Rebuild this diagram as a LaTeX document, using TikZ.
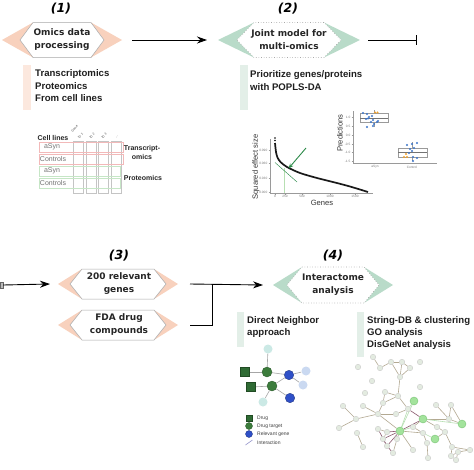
\documentclass[tikz,border=0pt]{standalone}
\usepackage{fontspec}
\setmainfont{Liberation Sans}
\newfontfamily\dvsans{DejaVu Sans}
\usetikzlibrary{arrows.meta}
\pgfdeclarelayer{bg}
\pgfdeclarelayer{paper}
\pgfsetlayers{paper,bg,main}
\definecolor{peach}{HTML}{F8D1BD}
\definecolor{peachbar}{HTML}{FCE8DE}
\definecolor{mint}{HTML}{B9DBC9}
\definecolor{mintbar}{HTML}{E3EFE8}
\definecolor{hexedge}{HTML}{A8A8A8}
\definecolor{axisgray}{HTML}{9A9A9A}
\definecolor{tickgray}{HTML}{7A7A7A}
\definecolor{arrowgreen}{HTML}{2E8B4A}
\definecolor{dotblue}{HTML}{3B74C9}
\definecolor{dotorange}{HTML}{F0A22E}
\definecolor{rowpink}{HTML}{F2B9B9}
\definecolor{rowgreen}{HTML}{C6E6C6}
\definecolor{colgray}{HTML}{C4C4C4}
\definecolor{drugsq}{HTML}{2F6B34}
\definecolor{targetgreen}{HTML}{3C7C3C}
\definecolor{genblue}{HTML}{2F50C8}
\definecolor{ltblue}{HTML}{CAD9F1}
\definecolor{ltcyan}{HTML}{CBE9E5}
\definecolor{netfill}{HTML}{E3EBE0}
\definecolor{netedgec}{HTML}{C4C4C4}
\definecolor{netgreen}{HTML}{A3E39C}
\definecolor{netgreenb}{HTML}{79C475}
\definecolor{olivec}{HTML}{B3A992}
\definecolor{maroonc}{HTML}{8A5A6E}
\definecolor{paleg}{HTML}{B7DFB2}

\newcommand\hexshape[8]{%
  \fill[#7] (#1-#3-#6,#2) -- (#1-#3+#5,#2-#4) -- (#1-#3,#2) -- (#1-#3+#5,#2+#4) -- cycle;
  \fill[#7] (#1+#3+#6,#2) -- (#1+#3-#5,#2-#4) -- (#1+#3,#2) -- (#1+#3-#5,#2+#4) -- cycle;
  \draw[#8,fill=white] (#1-#3,#2) -- (#1-#3+#5,#2-#4) -- (#1+#3-#5,#2-#4) -- (#1+#3,#2) -- (#1+#3-#5,#2+#4) -- (#1-#3+#5,#2+#4) -- cycle;
}

\begin{document}
\begin{tikzpicture}[x=1pt,y=-1pt,
  hexspan/.style={inner sep=0, outer sep=0},
  hexlab/.style={font=\dvsans\bfseries\fontsize{9}{13}\selectfont, align=center, text=black!85},
  steplab/.style={font=\dvsans\bfseries\itshape\fontsize{12.5}{14}\selectfont},
  desc/.style={font=\bfseries\fontsize{9.6}{12}\selectfont, anchor=base west, inner sep=0, text=black!88},
  flowarrow/.style={-{Stealth[length=10pt,width=7pt]}, line width=0.9pt},
  solidhex/.style={draw=hexedge, line width=0.5pt},
  dothex/.style={draw=hexedge, line width=0.6pt, dotted},
  tiny/.style={font=\fontsize{3.2}{3.6}\selectfont, text=tickgray, inner sep=0.5pt},
  axlab/.style={font=\fontsize{7.6}{9}\selectfont, text=black!80, inner sep=0},
  cellt/.style={font=\fontsize{7}{8}\selectfont, text=black!55, inner sep=0},
  tabhead/.style={font=\bfseries\fontsize{7}{8.5}\selectfont, text=black!85, inner sep=0, align=center},
  colhead/.style={font=\fontsize{3.2}{3.5}\selectfont, text=black!70, rotate=45, inner sep=0},
  jdot/.style={circle, inner sep=0, minimum size=2.3, fill=dotblue},
  odot/.style={circle, inner sep=0, minimum size=2.3, fill=dotorange},
  drugbox/.style={rectangle, fill=drugsq, draw=drugsq!70!black, line width=0.3pt, minimum size=9, inner sep=0},
  tgt/.style={circle, fill=targetgreen, draw=targetgreen!70!black, line width=0.3pt, minimum size=10, inner sep=0},
  rel/.style={circle, fill=genblue, draw=genblue!60!black, line width=0.3pt, minimum size=9.5, inner sep=0},
  ltb/.style={circle, fill=ltblue, minimum size=9, inner sep=0},
  ltc/.style={circle, fill=ltcyan, minimum size=9, inner sep=0},
  legt/.style={font=\fontsize{5}{6}\selectfont, text=black!75, anchor=west, inner sep=0},
  netn/.style={circle, draw=netedgec, fill=netfill, line width=0.3pt, minimum size=5.5, inner sep=0},
  netg/.style={circle, draw=netgreenb, fill=netgreen, line width=0.4pt, minimum size=8, inner sep=0},
  nete/.style={line width=0.6pt}
]
\useasboundingbox (0,0) rectangle (474,469);
\begin{pgfonlayer}{paper}
\fill[white] (0,0) rectangle (474,469);
\end{pgfonlayer}

% ---------------- step labels
\node[steplab] (s1) at (61,9) {(1)};
\node[steplab] (s2) at (288,9) {(2)};
\node[steplab] (s3) at (119,256) {(3)};
\node[steplab] (s4) at (333,256) {(4)};

% ---------------- hexagons
\hexshape{62}{40}{42}{17.5}{13}{18}{peach}{solidhex}
\node[hexspan, minimum width=120, minimum height=35] (hex1) at (62,40) {};
\node[hexlab] (l1) at (62,40) {Omics data\\processing};

\hexshape{289}{40}{52}{17.5}{17}{19}{mint}{dothex}
\node[hexspan, minimum width=142, minimum height=35] (hex2) at (289,40) {};
\node[hexlab] (l2) at (289,40) {Joint model for\\multi-omics};

\hexshape{118}{284}{48}{15}{12}{12}{peach}{solidhex}
\node[hexspan, minimum width=120, minimum height=30] (hex3a) at (118,284) {};
\node[hexlab] (l3a) at (119,284) {200 relevant\\genes};

\hexshape{118}{325}{48}{15}{12}{12}{peach}{solidhex}
\node[hexspan, minimum width=120, minimum height=30] (hex3b) at (118,325) {};
\node[hexlab] (l3b) at (119,325) {FDA drug\\compounds};

\hexshape{333}{285}{46}{18}{15}{14}{mint}{dothex}
\node[hexspan, minimum width=120, minimum height=36] (hex4) at (333,285) {};
\node[hexlab] (l4) at (333,285) {Interactome\\analysis};

% ---------------- connectors
\draw[flowarrow] ([xshift=10pt]hex1.east) -- ([xshift=-11pt]hex2.west);
\coordinate (tee1) at (417,40);
\draw[line width=0.9pt, -{Bar[width=10pt,line width=1pt]}] ([xshift=8pt]hex2.east) -- (tee1);
\node[rectangle, fill=gray!55, draw=gray!80!black, line width=0.3pt, minimum width=3, minimum height=6, inner sep=0] (teebox) at (1.5,285) {};
\draw[flowarrow] (teebox.east) -- ([xshift=-8pt]hex3a.west);
\coordinate (join) at (212,285);
\draw[flowarrow] ([xshift=12pt]hex3a.east) -- ([xshift=-10pt]hex4.west);
\draw[line width=0.9pt] ([xshift=12pt]hex3b.east) -| (join);

% ---------------- description texts
\fill[peachbar] (23,65) rectangle (31,110);
\node[desc] (d1a) at (35,76.5) {Transcriptomics};
\node[desc] (d1b) at (35,89) {Proteomics};
\node[desc] (d1c) at (35,101.5) {From cell lines};

\fill[mintbar] (240,65) rectangle (248,110);
\node[desc] (d2a) at (250,77) {Prioritize genes/proteins};
\node[desc] (d2b) at (250,90) {with POPLS-DA};

\fill[mintbar] (237,312) rectangle (244,347);
\node[desc] (d4a) at (247,323) {Direct Neighbor};
\node[desc] (d4b) at (247,335) {approach};

\fill[mintbar] (357,312) rectangle (364,357);
\node[desc] (d4c) at (367,323) {String-DB \& clustering};
\node[desc] (d4d) at (367,335) {GO analysis};
\node[desc] (d4e) at (367,347) {DisGeNet analysis};

% ---------------- cell line table
\foreach \cx in {73,86,98,111}
  \draw[colgray, line width=0.4pt] (\cx,141) rectangle (\cx+10,193);
\draw[rowpink, line width=0.45pt] (39,142) rectangle (123,152);
\draw[rowpink, line width=0.45pt] (39,154) rectangle (123,164);
\draw[rowgreen, line width=0.45pt] (39,166.5) rectangle (120,176.5);
\draw[rowgreen, line width=0.45pt] (39,178) rectangle (120,188);
\node[tabhead] (cl) at (53,138) {Cell lines};
\node[cellt] (r1) at (52,147) {aSyn};
\node[cellt] (r2) at (53,159) {Controls};
\node[cellt] (r3) at (52,171) {aSyn};
\node[cellt] (r4) at (53,183) {Controls};
\node[colhead] (ch1a) at (74.5,128.5) {Gene};
\node[colhead] (ch1b) at (80.5,136) {ID 1};
\node[colhead] (ch2) at (92,136) {ID 2};
\node[colhead] (ch3) at (104,136) {ID 3};
\node[colhead] (ch4) at (117,137) {...};
\node[tabhead] (tt) at (142,152.5) {Transcript-\\omics};
\node[tabhead] (tp) at (143,178) {Proteomics};

% ---------------- effect size plot
\draw[axisgray, line width=0.4pt] (270,139) -- (270,193) -- (373,193);
\foreach \yy/\lab in {150/0.090,163/0.060,178/0.030,192/0.000}{
  \draw[axisgray, line width=0.3pt] (268.5,\yy) -- (270,\yy);
  \node[tiny, anchor=east] at (268,\yy) {\lab};}
\foreach \xx/\lab in {275/0,285/250,302/500,330/1000,355/1500}{
  \draw[axisgray, line width=0.3pt] (\xx,193) -- (\xx,194.5);
  \node[tiny, anchor=north] at (\xx,195) {\lab};}
\node[axlab, rotate=90] (yl) at (256,167) {Squared effect size};
\node[axlab] (xl) at (322,203) {Genes};
\draw[paleg, line width=0.35pt] (284.5,168) -- (284.5,193);
\draw[line width=1.7pt, black!90] plot[smooth] coordinates {(275,143) (276,152) (277.5,157.5) (280.5,162) (287,167) (300,173) (317,178) (333,182) (350,186.5) (368,192)};
\fill[black] (275,138) circle (0.8);
\fill[black] (275,140.5) circle (0.8);
\draw[arrowgreen, line width=0.45pt] (275,162.5) -- (297,182);
\draw[arrowgreen, line width=0.9pt, -{Stealth[length=5pt,width=4pt]}] (306,148) -- (288.5,168.5);

% ---------------- predictions plot
\draw[axisgray, line width=0.4pt] (353,111) -- (353,163.5) -- (437,163.5);
\foreach \yy/\lab in {117/1.0,126/0.5,135/0.0,144/-0.5,152.5/-1.0,161.5/-1.5}{
  \draw[axisgray, line width=0.3pt] (351.5,\yy) -- (353,\yy);
  \node[tiny, anchor=east] at (351,\yy) {\lab};}
\node[tiny, anchor=north] (xa) at (375,165) {aSyn};
\node[tiny, anchor=north] (xc) at (412,165) {Control};
\node[axlab, rotate=90] (pl) at (340,133) {Predictions};
\draw[axisgray, line width=0.4pt] (374,110) -- (374,113) (374,122) -- (374,127);
\draw[axisgray, line width=0.5pt, fill=white] (360,113) rectangle (388,122);
\draw[black!55, line width=0.8pt] (360,118) -- (388,118);
\draw[axisgray, line width=0.4pt] (412,142) -- (412,148) (412,157) -- (412,161);
\draw[axisgray, line width=0.5pt, fill=white] (398,148) rectangle (427,157);
\draw[black!55, line width=0.8pt] (398,152) -- (427,152);
\foreach \px/\py in {363/113,367/114,369/117,368/118.5,372/116,366/119,373/120,377/122,378/121,374/124,367/127,373/126,371/122}
  \node[jdot] at (\px,\py) {};
\foreach \px/\py in {375/112.5,377.5/112.5}
  \node[odot] at (\px,\py) {};
\foreach \px/\py in {407/145,412/144,417/143,410/149,412/151,409/153,413/157,417/158,413/161,414/148}
  \node[jdot] at (\px,\py) {};
\foreach \px/\py in {406/154,407/157,404/157}
  \node[odot] at (\px,\py) {};

% ---------------- direct neighbour network
\node[ltc] (c1) at (268,349) {};
\node[drugbox] (sq1) at (245,372) {};
\node[tgt] (g1) at (267,372) {};
\node[rel] (b1) at (289,375) {};
\node[ltb] (lb1) at (306,371) {};
\node[drugbox] (sq2) at (251,387) {};
\node[tgt] (g2) at (272,386) {};
\node[ltb] (lb2) at (303,385) {};
\node[rel] (b2) at (290,398) {};
\node[ltc] (c2) at (263,402) {};
\begin{pgfonlayer}{bg}
\foreach \u/\v in {sq1/g1,g1/b1,b1/lb1,b1/lb2,g1/c1,sq2/g2,g2/b1,g2/b2,g2/c2}
  \draw[black!35, line width=0.6pt] (\u) -- (\v);
\end{pgfonlayer}
\node[drugbox, minimum size=6] (k1) at (249,418) {};
\node[tgt, minimum size=7] (k2) at (249,426) {};
\node[rel, minimum size=7] (k3) at (249,434) {};
\coordinate (k4a) at (245.5,445);
\coordinate (k4b) at (252.5,440);
\draw[blue!35!gray!60, line width=0.6pt] (k4a) -- (k4b);
\node[legt] (kt1) at (257,418) {Drug};
\node[legt] (kt2) at (257,426) {Drug target};
\node[legt] (kt3) at (257,434) {Relevant gene};
\node[legt] (kt4) at (257,442.5) {Interaction};

% ---------------- STRING network
\foreach \n/\x/\y in {a1/358/367, a2/373/357, a3/380/368, a4/391/362, a5/402/362, a6/410/368, a7/400/377, a8/420/362, a9/372/381, a10/420/387, a11/365/393, a12/385/392, a13/398/396, a14/383/403, a16/436/405, a17/451/405, a18/363/406, a19/343/406, a20/378/414, a21/396/414, a22/408/409, a23/356/419, a25/449/419, a27/339/428, a28/378/429, a30/413/427, a31/437/427, a32/445/432, a33/357/433, a34/387/432, a35/423/433, a37/383/439, a38/397/439, a39/427/443, a40/363/447, a41/387/446, a42/413/450, a43/393/453, a44/452/447, a45/470/450, a46/428/458, a47/451/456, a48/456/460, a49/458/452}
  \node[netn] (\n) at (\x,\y) {};
\foreach \n/\x/\y in {a15/414/401, a24/423/419, a26/462/424, a29/400/431, a36/435/439}
  \node[netg] (\n) at (\x,\y) {};
\begin{pgfonlayer}{bg}
\foreach \u/\v in {a2/a3, a3/a4, a4/a5, a4/a7, a5/a7, a5/a6, a6/a7, a7/a13, a12/a13, a12/a14, a13/a14, a13/a22, a14/a20, a19/a23, a23/a20, a23/a27, a20/a21, a21/a22, a24/a30, a24/a25, a25/a17, a17/a26, a25/a26, a24/a31, a31/a32, a28/a34, a34/a37, a29/a38, a38/a43, a29/a42, a29/a35, a35/a39, a39/a46, a36/a32, a32/a44, a44/a45, a44/a47, a47/a48, a48/a49, a47/a49, a49/a45, a33/a40, a30/a35, a16/a25, a18/a20, a20/a29}
  \draw[olivec, nete] (\u) -- (\v);
\foreach \u/\v in {a29/a34, a29/a37, a41/a43, a28/a41, a22/a24, a29/a24, a37/a41, a29/a41}
  \draw[maroonc, nete] (\u) -- (\v);
\foreach \u/\v in {a15/a29, a22/a15, a35/a36, a24/a26, a22/a29, a29/a30}
  \draw[paleg, nete] (\u) -- (\v);
\end{pgfonlayer}
\end{tikzpicture}
\end{document}
